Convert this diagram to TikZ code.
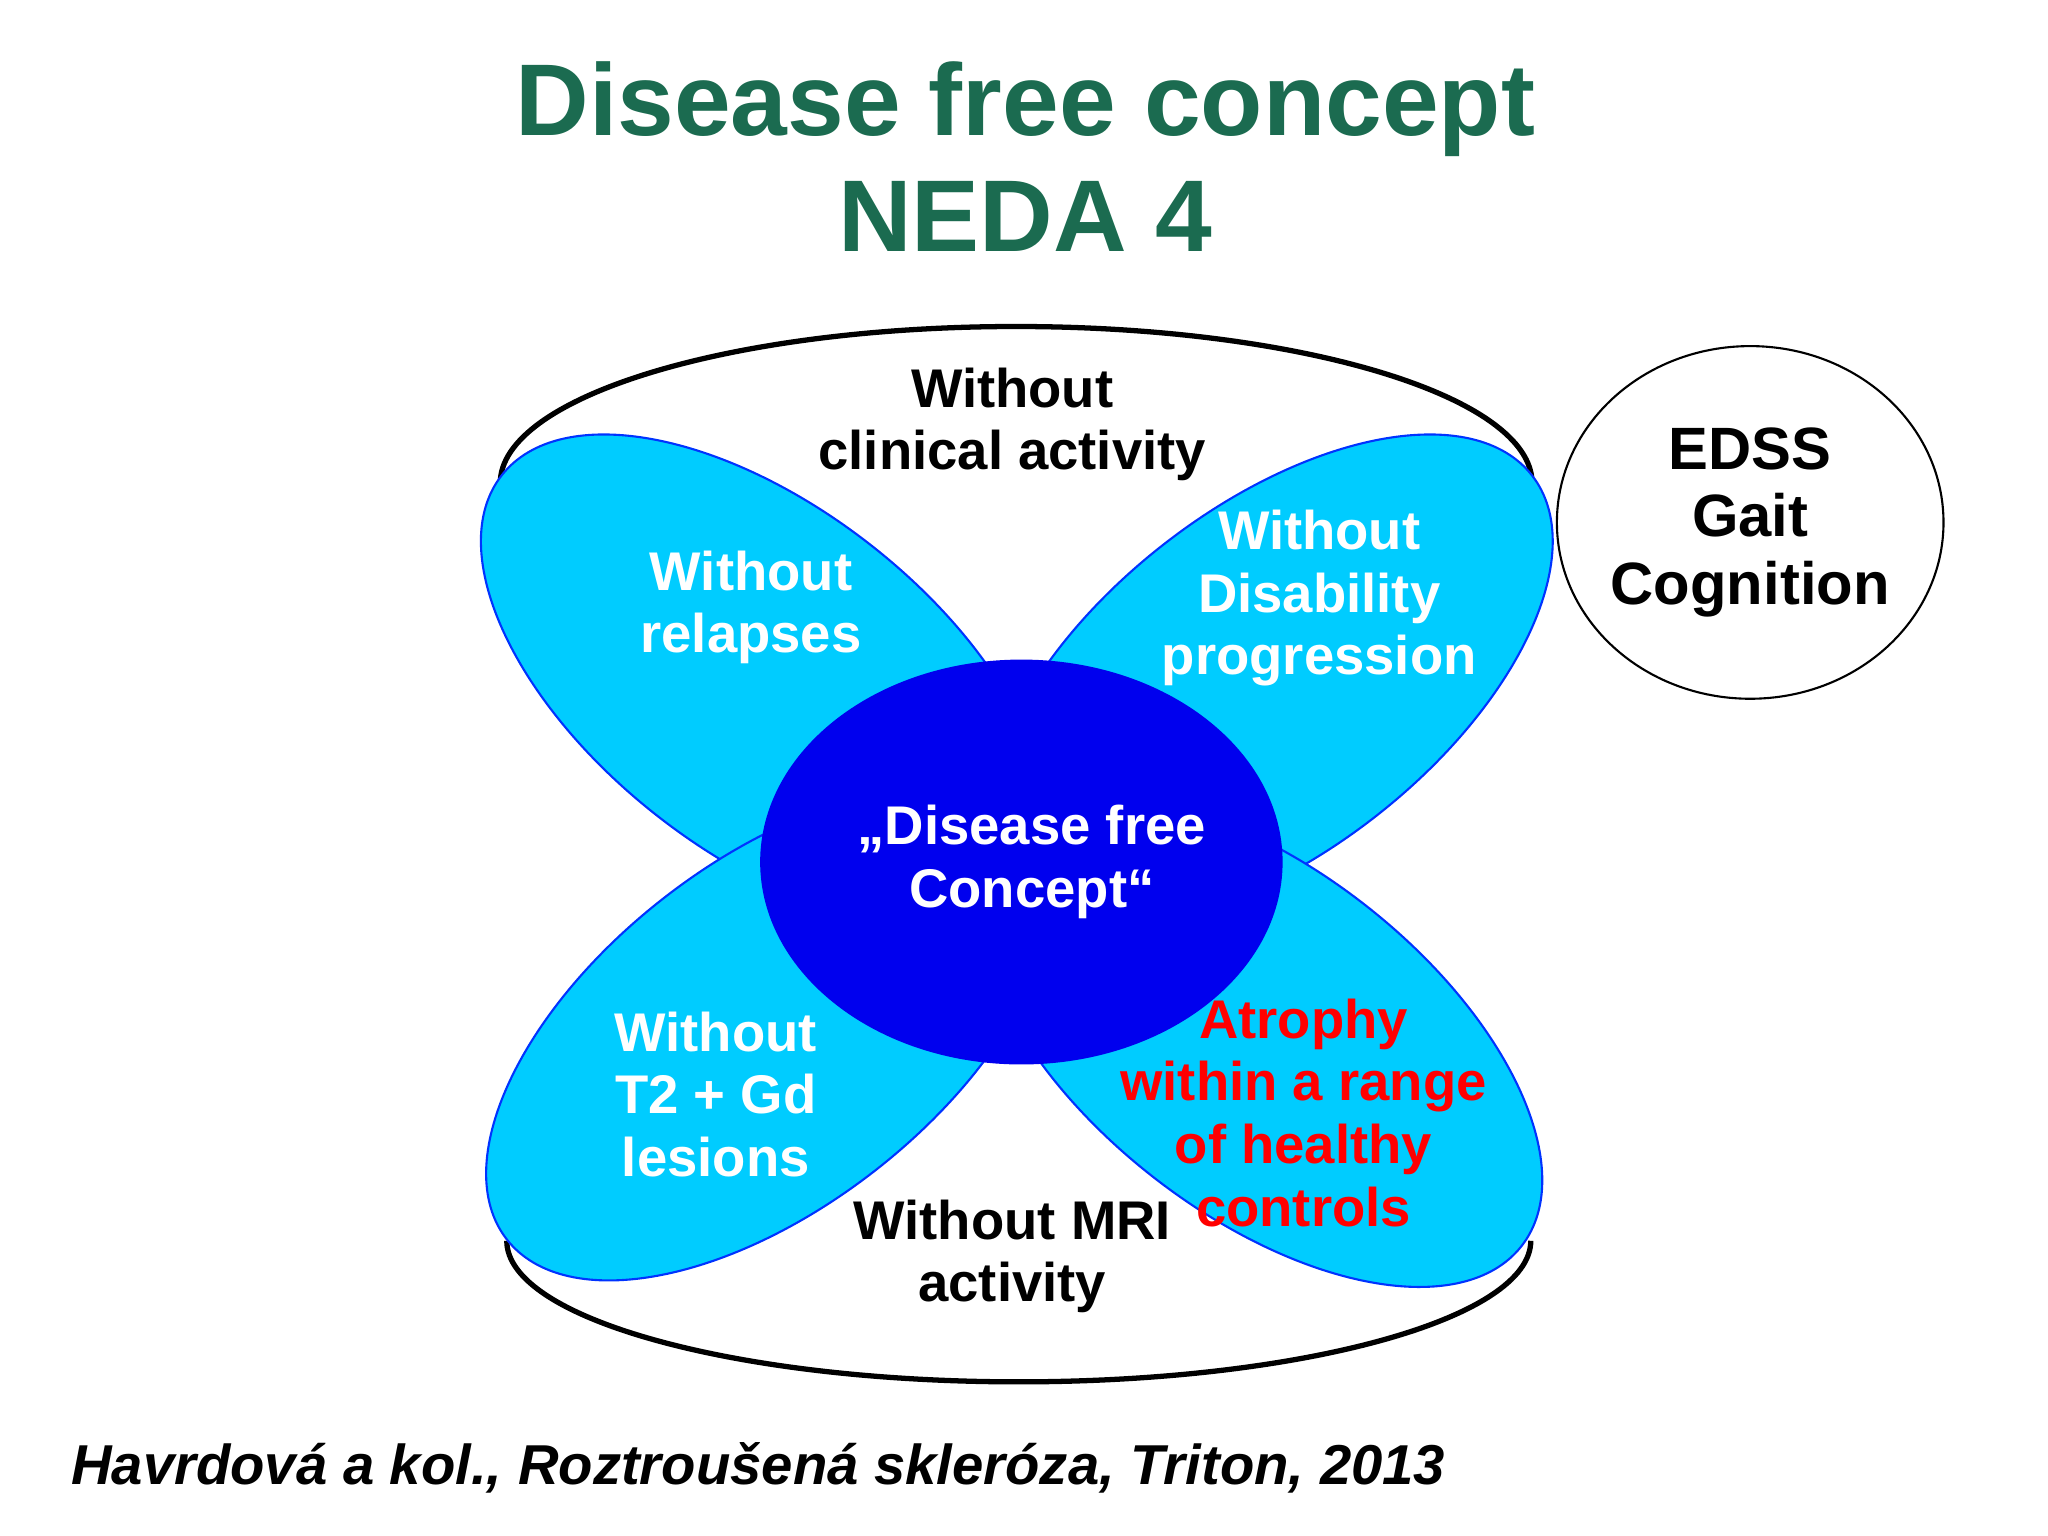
\documentclass[tikz,border=0pt]{standalone}
\usepackage{fontspec}
\setmainfont{Liberation Sans}
\begin{document}
\begin{tikzpicture}[x=0.01306cm,y=0.01306cm,
  petal/.style={fill=petalc,draw=blue!80!cyan,line width=0.6pt},
  lab/.style={font=\bfseries\fontsize{15.5}{17.8}\selectfont,align=center}]
\definecolor{petalc}{HTML}{00CCFF}
\definecolor{ttl}{HTML}{1B6B50}
\definecolor{ctr}{HTML}{0000EE}
\useasboundingbox (0,0) rectangle (1568,1176);
\node[font=\bfseries\fontsize{29}{33}\selectfont,text=ttl,align=center] (title) at (785,1056) {Disease free concept\\NEDA 4};
\draw[line width=1.5pt] (383,806) arc [start angle=180,end angle=0,x radius=395,y radius=120];
\draw[line width=1.5pt] (388,226) arc [start angle=180,end angle=360,x radius=392,y radius=108];
\path[petal,rotate around={-38:(585,655)}] (585,655) ellipse [x radius=255,y radius=132];
\path[petal,rotate around={38:(972,655)}] (972,655) ellipse [x radius=255,y radius=132];
\path[petal,rotate around={38:(589,384)}] (589,384) ellipse [x radius=255,y radius=132];
\path[petal,rotate around={-38:(964,379)}] (964,379) ellipse [x radius=255,y radius=132];
\fill[ctr] (782,516) ellipse [x radius=200,y radius=155];
\draw[line width=0.6pt] (1340,776) ellipse [x radius=148,y radius=135];
\node[lab] (clin) at (775,851) {Without\\clinical activity};
\node[lab,text=white] (rel) at (575,711) {Without\\relapses};
\node[lab,text=white] (dis) at (1010,718) {Without\\Disability\\progression};
\node[lab,text=white] (con) at (790,516) {„Disease free\\Concept“};
\node[lab,text=white] (t2) at (548,338) {Without\\T2 + Gd\\lesions};
\node[lab,text=red] (atr) at (998,324) {Atrophy\\within a range\\of healthy\\controls};
\node[lab] (mri) at (775,214) {Without MRI\\activity};
\node[font=\bfseries\fontsize{17}{19.3}\selectfont,align=center] (edss) at (1340,776) {EDSS\\Gait\\Cognition};
\node[font=\bfseries\itshape\fontsize{16}{18}\selectfont,anchor=west] (cit) at (45,52) {Havrdová a kol., Roztroušená skleróza, Triton, 2013};
\end{tikzpicture}
\end{document}
